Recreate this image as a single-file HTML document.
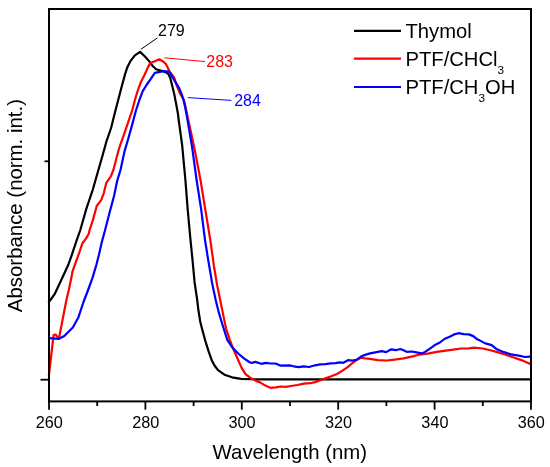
<!DOCTYPE html>
<html><head><meta charset="utf-8"><style>
html,body{margin:0;padding:0;background:#fff;}
svg{display:block;will-change:transform;font-family:"Liberation Sans",sans-serif;}
</style></head><body>
<svg width="550" height="467" viewBox="0 0 550 467">
<rect width="550" height="467" fill="#fff"/>
<g fill="none" stroke-linejoin="round" stroke-linecap="round" stroke-width="2.2">
<polyline stroke="#000000" points="48.9,301.8 50.4,300.0 54.6,294.2 56.6,290.0 63.0,276.3 68.1,265.3 72.0,254.4 75.8,242.9 80.3,230.0 86.4,208.6 92.9,189.3 98.4,170.0 102.7,155.0 106.6,140.8 111.1,128.0 113.0,120.3 115.6,110.0 118.2,100.0 122.1,85.0 125.3,73.4 127.2,67.6 130.4,61.2 134.9,55.4 140.1,51.9 145.2,56.7 149.7,61.9 152.9,66.3 156.1,69.3 160.6,70.6 165.8,72.1 168.4,74.1 170.3,78.0 172.2,85.7 174.1,93.4 176.1,103.7 178.0,114.0 178.7,120.0 182.2,145.7 185.4,180.0 187.7,209.6 190.5,240.0 192.7,261.9 194.6,282.4 197.2,300.0 198.4,310.3 200.3,321.9 202.9,332.1 205.4,341.1 208.6,351.4 211.9,360.5 214.5,365.5 218.0,370.2 224.4,374.7 232.1,377.3 241.1,378.8 251.4,379.2 260.0,379.3 531.0,379.3"/>
<polyline stroke="#ff0000" points="48.9,375.5 53.6,335.0 55.5,334.5 58.9,338.8 66.4,300.0 68.8,290.0 71.4,277.6 72.6,271.1 75.8,262.1 79.1,253.1 82.3,243.5 86.1,238.4 88.7,233.9 89.6,230.0 92.9,220.1 96.7,206.0 101.2,200.2 103.8,193.1 106.3,182.9 110.8,176.4 113.4,170.0 116.5,158.0 119.4,147.3 122.6,138.3 127.1,125.4 132.3,110.0 134.9,100.0 137.5,91.4 140.7,82.4 144.6,74.7 147.8,67.6 150.3,63.1 154.8,61.2 159.3,59.3 162.6,61.2 165.8,63.8 169.6,71.6 174.1,77.4 176.7,85.7 179.9,93.4 183.8,99.8 185.7,107.6 188.3,120.0 194.4,148.3 200.5,180.0 205.1,208.3 210.3,240.0 213.9,265.7 217.1,285.0 220.2,300.0 222.8,312.9 226.0,328.3 229.8,339.8 233.5,349.5 237.8,359.3 241.6,367.9 245.6,374.1 251.4,378.6 256.6,381.1 260.1,382.4 265.3,385.6 270.4,387.8 275.6,387.3 280.7,386.5 285.8,386.9 291.0,386.0 297.4,385.0 303.8,383.7 310.3,383.2 315.1,382.1 320.3,380.2 325.4,378.4 330.6,376.5 337.0,374.0 342.1,370.9 347.3,367.3 352.4,363.2 356.3,360.2 361.4,357.6 365.3,358.3 370.1,358.9 377.9,360.2 386.9,360.5 394.6,359.6 403.6,358.3 412.6,356.4 419.0,354.7 427.7,353.7 436.7,351.9 445.7,350.6 453.4,349.6 461.1,348.5 468.8,348.3 474.0,347.6 482.7,348.5 490.4,350.2 498.1,352.4 505.8,354.7 513.6,357.5 521.3,360.1 530.3,364.0"/>
<polyline stroke="#0000ff" points="48.9,338.2 58.9,338.8 64.3,336.0 72.8,327.5 78.2,317.8 83.5,302.0 88.1,290.0 92.6,277.6 96.4,264.7 99.0,254.4 101.6,242.9 105.1,230.0 109.6,212.4 114.1,195.7 117.3,180.3 120.5,170.0 124.6,151.1 128.4,138.3 132.3,124.1 136.1,110.0 139.4,100.0 142.6,91.4 146.5,85.0 151.0,78.6 154.8,72.8 160.0,71.9 162.6,71.3 167.7,71.3 170.3,72.9 172.9,78.0 176.1,83.1 179.3,88.3 181.9,94.7 183.8,101.1 185.7,110.1 187.5,120.0 191.9,145.7 196.6,180.0 201.2,209.6 205.0,240.0 208.1,259.3 212.0,282.4 215.7,300.0 218.9,312.9 222.8,325.7 227.3,339.8 232.4,347.6 238.7,354.0 244.3,358.6 250.1,362.5 252.1,362.9 255.3,361.9 261.4,363.8 265.9,362.9 270.4,363.5 275.6,363.5 280.7,365.7 289.7,365.4 293.6,366.3 298.7,367.2 303.8,366.3 309.0,367.0 315.1,365.3 320.3,364.4 325.4,364.1 330.6,363.4 335.7,363.2 339.6,362.4 343.4,362.8 347.9,360.2 352.4,360.6 356.3,359.8 361.4,356.3 366.6,354.4 370.1,353.4 375.3,352.4 381.7,351.1 386.2,352.1 391.3,349.3 395.8,350.2 400.3,349.0 403.6,350.2 406.8,351.9 411.9,351.5 416.4,352.4 421.6,353.4 425.1,351.9 430.3,348.3 435.4,344.7 439.9,342.5 444.4,339.0 449.6,336.7 454.1,334.4 458.6,333.2 463.7,334.1 468.8,334.4 473.3,336.1 477.2,339.3 480.1,340.6 485.3,343.4 491.7,345.1 496.9,349.3 503.3,351.9 511.0,354.4 518.7,355.7 525.1,357.0 530.3,356.6"/>
</g>
<g stroke="#000" stroke-width="1">
<line x1="140.8" y1="49.4" x2="157.4" y2="37.9"/>
</g>
<line stroke="#ff0000" stroke-width="1" x1="164.4" y1="57.8" x2="205" y2="61.6"/>
<line stroke="#0000ff" stroke-width="1" x1="187.9" y1="97.6" x2="231.3" y2="100.4"/>
<g font-size="16">
<text x="158" y="35.7">279</text>
<text x="206.3" y="66.9" fill="#ff0000">283</text>
<text x="234.2" y="105.8" fill="#0000ff">284</text>
</g>
<rect x="49" y="9" width="482" height="392.4" fill="none" stroke="#000" stroke-width="2"/>
<g stroke="#000" stroke-width="1.8">
<line x1="49.00" y1="401" x2="49.00" y2="409.7"/><line x1="97.20" y1="401" x2="97.20" y2="406"/><line x1="145.40" y1="401" x2="145.40" y2="409.7"/><line x1="193.60" y1="401" x2="193.60" y2="406"/><line x1="241.80" y1="401" x2="241.80" y2="409.7"/><line x1="290.00" y1="401" x2="290.00" y2="406"/><line x1="338.20" y1="401" x2="338.20" y2="409.7"/><line x1="386.40" y1="401" x2="386.40" y2="406"/><line x1="434.60" y1="401" x2="434.60" y2="409.7"/><line x1="482.80" y1="401" x2="482.80" y2="406"/><line x1="531.00" y1="401" x2="531.00" y2="409.7"/><line x1="49" y1="379.7" x2="40.5" y2="379.7"/><line x1="49" y1="161.3" x2="44.5" y2="161.3"/>
</g>
<g font-size="17.2">
<text transform="translate(49.30,428) scale(0.945,1)" text-anchor="middle">260</text><text transform="translate(145.70,428) scale(0.945,1)" text-anchor="middle">280</text><text transform="translate(242.10,428) scale(0.945,1)" text-anchor="middle">300</text><text transform="translate(338.50,428) scale(0.945,1)" text-anchor="middle">320</text><text transform="translate(434.90,428) scale(0.945,1)" text-anchor="middle">340</text><text transform="translate(531.30,428) scale(0.945,1)" text-anchor="middle">360</text>
</g>
<text x="289.8" y="459" font-size="20.4" text-anchor="middle">Wavelength (nm)</text>
<text transform="translate(21.7,205.6) rotate(-90)" font-size="20.4" text-anchor="middle">Absorbance (norm. int.)</text>
<g stroke-width="2.2">
<line x1="354" y1="30.8" x2="401" y2="30.8" stroke="#000"/>
<line x1="354" y1="58.7" x2="401" y2="58.7" stroke="#ff0000"/>
<line x1="354" y1="87" x2="401" y2="87" stroke="#0000ff"/>
</g>
<g font-size="20.2">
<text x="405.5" y="37.9">Thymol</text>
<text x="405.5" y="65.6">PTF/CHCl<tspan font-size="11.8" dy="8">3</tspan></text>
<text x="405.5" y="93.7">PTF/CH<tspan font-size="11.8" dy="8">3</tspan><tspan dy="-8">OH</tspan></text>
</g>
</svg>
</body></html>
